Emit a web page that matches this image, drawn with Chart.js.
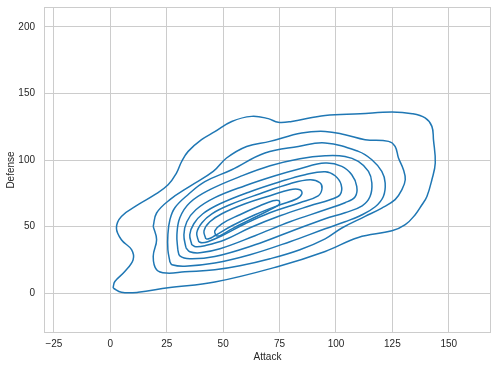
<!DOCTYPE html>
<html>
<head>
<meta charset="utf-8">
<script src="https://cdn.jsdelivr.net/npm/chart.js@4"></script>
<style>
  html, body { margin: 0; padding: 0; background: #fff; }
</style>
</head>
<body>
<canvas id="kdeChart" width="497" height="369"></canvas>
<script>
'use strict';

// tick labels
const attackTicks = [-25, 0, 25, 50, 75, 100, 125, 150];
const defenseTicks = [0, 50, 100, 150, 200];

// KDE contour lines, outermost first (Attack / Defense pairs)
const c1Attack = [1.2, 2.0, 6.4, 10.1, 9.4, 4.9, 2.7, 4.9, 12.3, 19.7, 25.6, 29.3, 31.6, 34.5, 40.4, 46.3, 53.8, 62.6, 70.0, 74.4, 80.4, 95.2, 110.7, 124.8, 133.8, 139.5, 142.5, 143.2, 144.0, 142.5, 140.3, 138.1, 135.1, 130.7, 124.8, 109.9, 95.2, 74.4, 46.3, 25.6, 12.3, 4.9];
const c1Defense = [3.8, 8.7, 16.2, 25.0, 32.6, 40.1, 48.9, 57.6, 66.4, 73.9, 81.4, 90.2, 98.9, 106.5, 115.3, 121.3, 129.0, 132.8, 131.1, 128.3, 129.0, 133.5, 134.8, 136.1, 134.8, 131.6, 125.3, 115.3, 97.7, 85.2, 72.6, 66.4, 58.9, 51.4, 46.8, 41.8, 31.3, 20.0, 8.3, 4.0, 0.6, 0.6];

const c2Attack = [19.0, 20.5, 26.4, 35.2, 45.6, 51.5, 60.4, 70.7, 84.8, 95.2, 104.0, 112.9, 123.3, 126.2, 127.7, 129.9, 130.7, 129.2, 126.2, 120.3, 112.9, 102.6, 95.2, 84.0, 70.8, 57.4, 46.3, 33.0, 24.9, 20.5, 19.0, 20.5];
const c2Defense = [50.1, 60.2, 70.2, 80.2, 91.4, 101.5, 110.2, 114.0, 120.3, 121.5, 119.0, 115.3, 114.0, 110.2, 101.5, 92.7, 85.2, 77.7, 70.2, 63.9, 57.6, 48.9, 40.8, 32.6, 25.8, 20.5, 17.5, 16.0, 15.0, 17.5, 27.5, 40.1];

const c3Attack = [26.4, 25.5, 25.5, 26.4, 28.6, 34.4, 41.9, 53.8, 68.5, 83.3, 95.2, 109.9, 115.9, 120.3, 121.8, 121.0, 117.4, 110.7, 104.0, 95.2, 79.6, 61.9, 46.3, 33.0, 27.3];
const c3Defense = [23.5, 32.6, 43.8, 55.1, 64.1, 73.9, 83.7, 92.7, 105.3, 110.2, 112.8, 106.5, 100.2, 91.4, 82.7, 72.6, 64.9, 58.1, 53.6, 48.3, 38.6, 28.8, 22.6, 20.2, 21.3];

const c4Attack = [29.9, 29.5, 30.8, 35.2, 44.1, 57.4, 70.8, 84.0, 95.2, 104.0, 109.9, 114.4, 115.9, 115.1, 111.6, 104.0, 95.2, 79.6, 64.1, 46.3, 35.2, 30.8];
const c4Defense = [32.6, 43.8, 56.6, 67.9, 77.7, 87.5, 95.7, 101.0, 103.2, 102.7, 98.9, 91.4, 82.7, 72.6, 65.6, 60.4, 55.9, 46.1, 36.3, 27.5, 25.8, 28.0];

const c5Attack = [33.5, 32.6, 33.9, 37.9, 46.3, 59.7, 73.0, 84.0, 95.2, 102.6, 107.0, 109.2, 108.5, 104.0, 95.2, 79.6, 64.1, 48.6, 39.7, 35.2];
const c5Defense = [34.1, 43.8, 53.6, 62.6, 71.7, 80.7, 88.2, 93.5, 97.7, 95.2, 88.9, 80.2, 72.4, 67.9, 62.6, 53.6, 43.1, 33.3, 30.3, 31.1];

const c6Attack = [36.1, 35.2, 37.0, 41.0, 48.6, 61.9, 75.2, 86.3, 95.2, 99.6, 102.3, 101.8, 97.4, 88.5, 75.2, 61.9, 50.8, 41.9, 37.9];
const c6Defense = [36.3, 43.8, 52.1, 59.6, 67.1, 76.2, 83.7, 89.0, 91.2, 88.2, 81.4, 73.9, 70.2, 65.6, 58.1, 49.1, 40.1, 35.6, 34.8];

const c7Attack = [39.2, 38.3, 40.6, 45.0, 53.0, 66.3, 79.6, 88.5, 92.9, 93.8, 92.1, 84.0, 70.7, 59.7, 49.4, 43.2, 40.6];
const c7Defense = [38.6, 45.3, 52.9, 59.6, 66.4, 74.7, 82.2, 85.2, 82.9, 78.4, 73.1, 67.9, 60.4, 52.1, 43.1, 38.6, 37.8];

const c8Attack = [42.3, 41.5, 44.1, 49.4, 59.7, 70.8, 79.6, 84.0, 84.9, 82.7, 75.2, 64.1, 53.9, 46.3, 43.6];
const c8Defense = [40.8, 46.8, 53.6, 59.6, 67.1, 73.2, 77.7, 77.7, 74.7, 70.9, 66.4, 58.9, 50.6, 43.1, 40.8];

const c9Attack = [46.8, 46.3, 49.4, 57.4, 66.3, 72.1, 74.7, 74.7, 69.9, 61.9, 53.9, 48.6];
const c9Defense = [43.1, 46.8, 52.1, 58.9, 65.6, 69.4, 69.4, 66.4, 61.9, 55.1, 48.3, 43.1];

const contours = [
  [c1Attack, c1Defense],
  [c2Attack, c2Defense],
  [c3Attack, c3Defense],
  [c4Attack, c4Defense],
  [c5Attack, c5Defense],
  [c6Attack, c6Defense],
  [c7Attack, c7Defense],
  [c8Attack, c8Defense],
  [c9Attack, c9Defense],
];

const lineColor = '#1f77b4';
const gridColor = '#cccccc';
const textColor = '#262626';
const fontFamily = '"Liberation Sans", Arial, sans-serif';

// each contour is a closed loop, so repeat the first point at the end
const datasets = contours.map(([atk, def]) => {
  const pts = atk.map((x, i) => ({ x: x, y: def[i] }));
  pts.push(pts[0]);
  return {
    data: pts,
    showLine: true,
    borderColor: lineColor,
    borderWidth: 1.5,
    pointRadius: 0,
    tension: 0.4,
    fill: false,
  };
});

// matplotlib style frame around the plot area
const framePlugin = {
  id: 'frame',
  beforeDatasetsDraw(chart) {
    const { ctx, chartArea: a } = chart;
    ctx.save();
    ctx.strokeStyle = gridColor;
    ctx.lineWidth = 1;
    ctx.strokeRect(Math.round(a.left) + 0.5, Math.round(a.top) + 0.5,
      Math.round(a.right - a.left) - 1, Math.round(a.bottom - a.top) - 1);
    ctx.restore();
  },
};

const minusLabel = v => (v < 0 ? '\u2212' + Math.abs(v) : String(v));

const kdeConfig = {
  type: 'scatter',
  data: { datasets: datasets },
  options: {
    responsive: false,
    animation: false,
    devicePixelRatio: 1,
    layout: { padding: { top: 7, right: 6, left: 0, bottom: 0 } },
    plugins: {
      legend: { display: false },
      tooltip: { enabled: false },
    },
    scales: {
      x: {
        type: 'linear',
        min: -29.4,
        max: 168.7,
        afterBuildTicks: s => { s.ticks = attackTicks.map(v => ({ value: v })); },
        afterFit: s => {
          s.height = 36;
          s.paddingLeft = 0;
          s.paddingRight = 0;
        },
        grid: { color: gridColor, drawTicks: false },
        border: { display: false },
        ticks: {
          padding: 5,
          color: textColor,
          maxRotation: 0,
          font: { family: fontFamily, size: 10 },
          callback: minusLabel,
        },
        title: {
          display: true,
          text: 'Attack',
          color: textColor,
          font: { family: fontFamily, size: 10 },
          padding: { top: 0, bottom: 6 },
        },
      },
      y: {
        type: 'linear',
        min: -30,
        max: 215,
        afterBuildTicks: s => { s.ticks = defenseTicks.map(v => ({ value: v })); },
        afterFit: s => {
          s.width = 44;
          s.paddingTop = 0;
          s.paddingBottom = 0;
        },
        grid: { color: gridColor, drawTicks: false },
        border: { display: false },
        ticks: {
          padding: 9,
          color: textColor,
          font: { family: fontFamily, size: 10 },
          callback: minusLabel,
        },
        title: {
          display: true,
          text: 'Defense',
          color: textColor,
          font: { family: fontFamily, size: 10 },
          padding: { top: 5, bottom: 0 },
        },
      },
    },
  },
  plugins: [framePlugin],
};

const kdeChart = new Chart(document.getElementById('kdeChart'), kdeConfig);
</script>
</body>
</html>
